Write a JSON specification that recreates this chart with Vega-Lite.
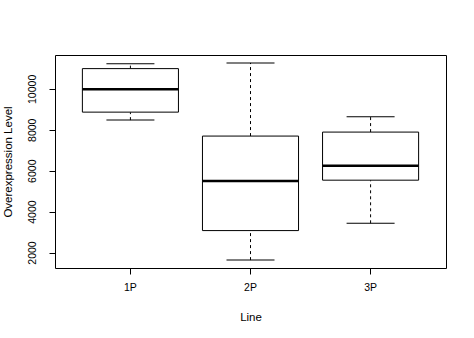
{
  "$schema": "https://vega.github.io/schema/vega-lite/v6.json",
  "width": 391,
  "height": 213,
  "autosize": {"type": "none"},
  "padding": {"left": 55, "top": 55, "right": 28, "bottom": 70},
  "background": "white",
  "config": {
    "view": {"stroke": "#000", "strokeWidth": 1},
    "font": "Liberation Sans",
    "axis": {
      "labelFont": "Liberation Sans",
      "titleFont": "Liberation Sans",
      "labelFontSize": 10.5,
      "titleFontSize": 11.5,
      "titleFontWeight": "normal",
      "labelColor": "#000",
      "titleColor": "#000",
      "tickColor": "#000",
      "tickSize": 6,
      "domain": false,
      "grid": false
    }
  },
  "data": {
    "values": [
      {"line": "1P", "min": 8473, "q1": 8863, "median": 9985, "q3": 10990, "max": 11234},
      {"line": "2P", "min": 1630, "q1": 3073, "median": 5498, "q3": 7693, "max": 11270},
      {"line": "3P", "min": 3429, "q1": 5537, "median": 6244, "q3": 7888, "max": 8634}
    ]
  },
  "encoding": {
    "x": {
      "field": "line",
      "type": "nominal",
      "scale": {"paddingInner": 0.2, "paddingOuter": 0.228},
      "axis": {
        "labelAngle": 0,
        "labelPadding": 8,
        "titleY": 49,
        "titleBaseline": "middle",
        "titleColor": "#000",
        "labelColor": "#000"
      },
      "title": "Line"
    }
  },
  "layer": [
    {
      "mark": {"type": "rule", "color": "#000", "strokeWidth": 1, "strokeDash": [3, 3]},
      "encoding": {
        "y": {
          "field": "q3",
          "type": "quantitative",
          "scale": {"domain": [1244, 11656], "nice": false, "zero": false},
          "axis": {
            "values": [2000, 4000, 6000, 8000, 10000],
            "format": "d",
            "labelAngle": -90,
            "labelAlign": "center",
            "labelBaseline": "bottom",
            "labelPadding": 12,
            "titleX": -46.5,
            "titleY": 106.5,
            "titleAngle": -90,
            "titleBaseline": "middle",
            "titleAlign": "center",
            "titleColor": "#000",
            "labelColor": "#000"
          },
          "title": "Overexpression Level"
        },
        "y2": {"field": "max"}
      }
    },
    {
      "mark": {"type": "rule", "color": "#000", "strokeWidth": 1, "strokeDash": [3, 3]},
      "encoding": {
        "y": {"field": "min", "type": "quantitative"},
        "y2": {"field": "q1"}
      }
    },
    {
      "mark": {"type": "tick", "color": "#000", "size": 48, "thickness": 1, "opacity": 1},
      "encoding": {"y": {"field": "max", "type": "quantitative"}}
    },
    {
      "mark": {"type": "tick", "color": "#000", "size": 48, "thickness": 1, "opacity": 1},
      "encoding": {"y": {"field": "min", "type": "quantitative"}}
    },
    {
      "mark": {"type": "bar", "fill": "white", "stroke": "#000", "strokeWidth": 1},
      "encoding": {
        "y": {"field": "q1", "type": "quantitative"},
        "y2": {"field": "q3"}
      }
    },
    {
      "mark": {"type": "tick", "color": "#000", "size": 96, "thickness": 2.5, "opacity": 1},
      "encoding": {"y": {"field": "median", "type": "quantitative"}}
    }
  ]
}
